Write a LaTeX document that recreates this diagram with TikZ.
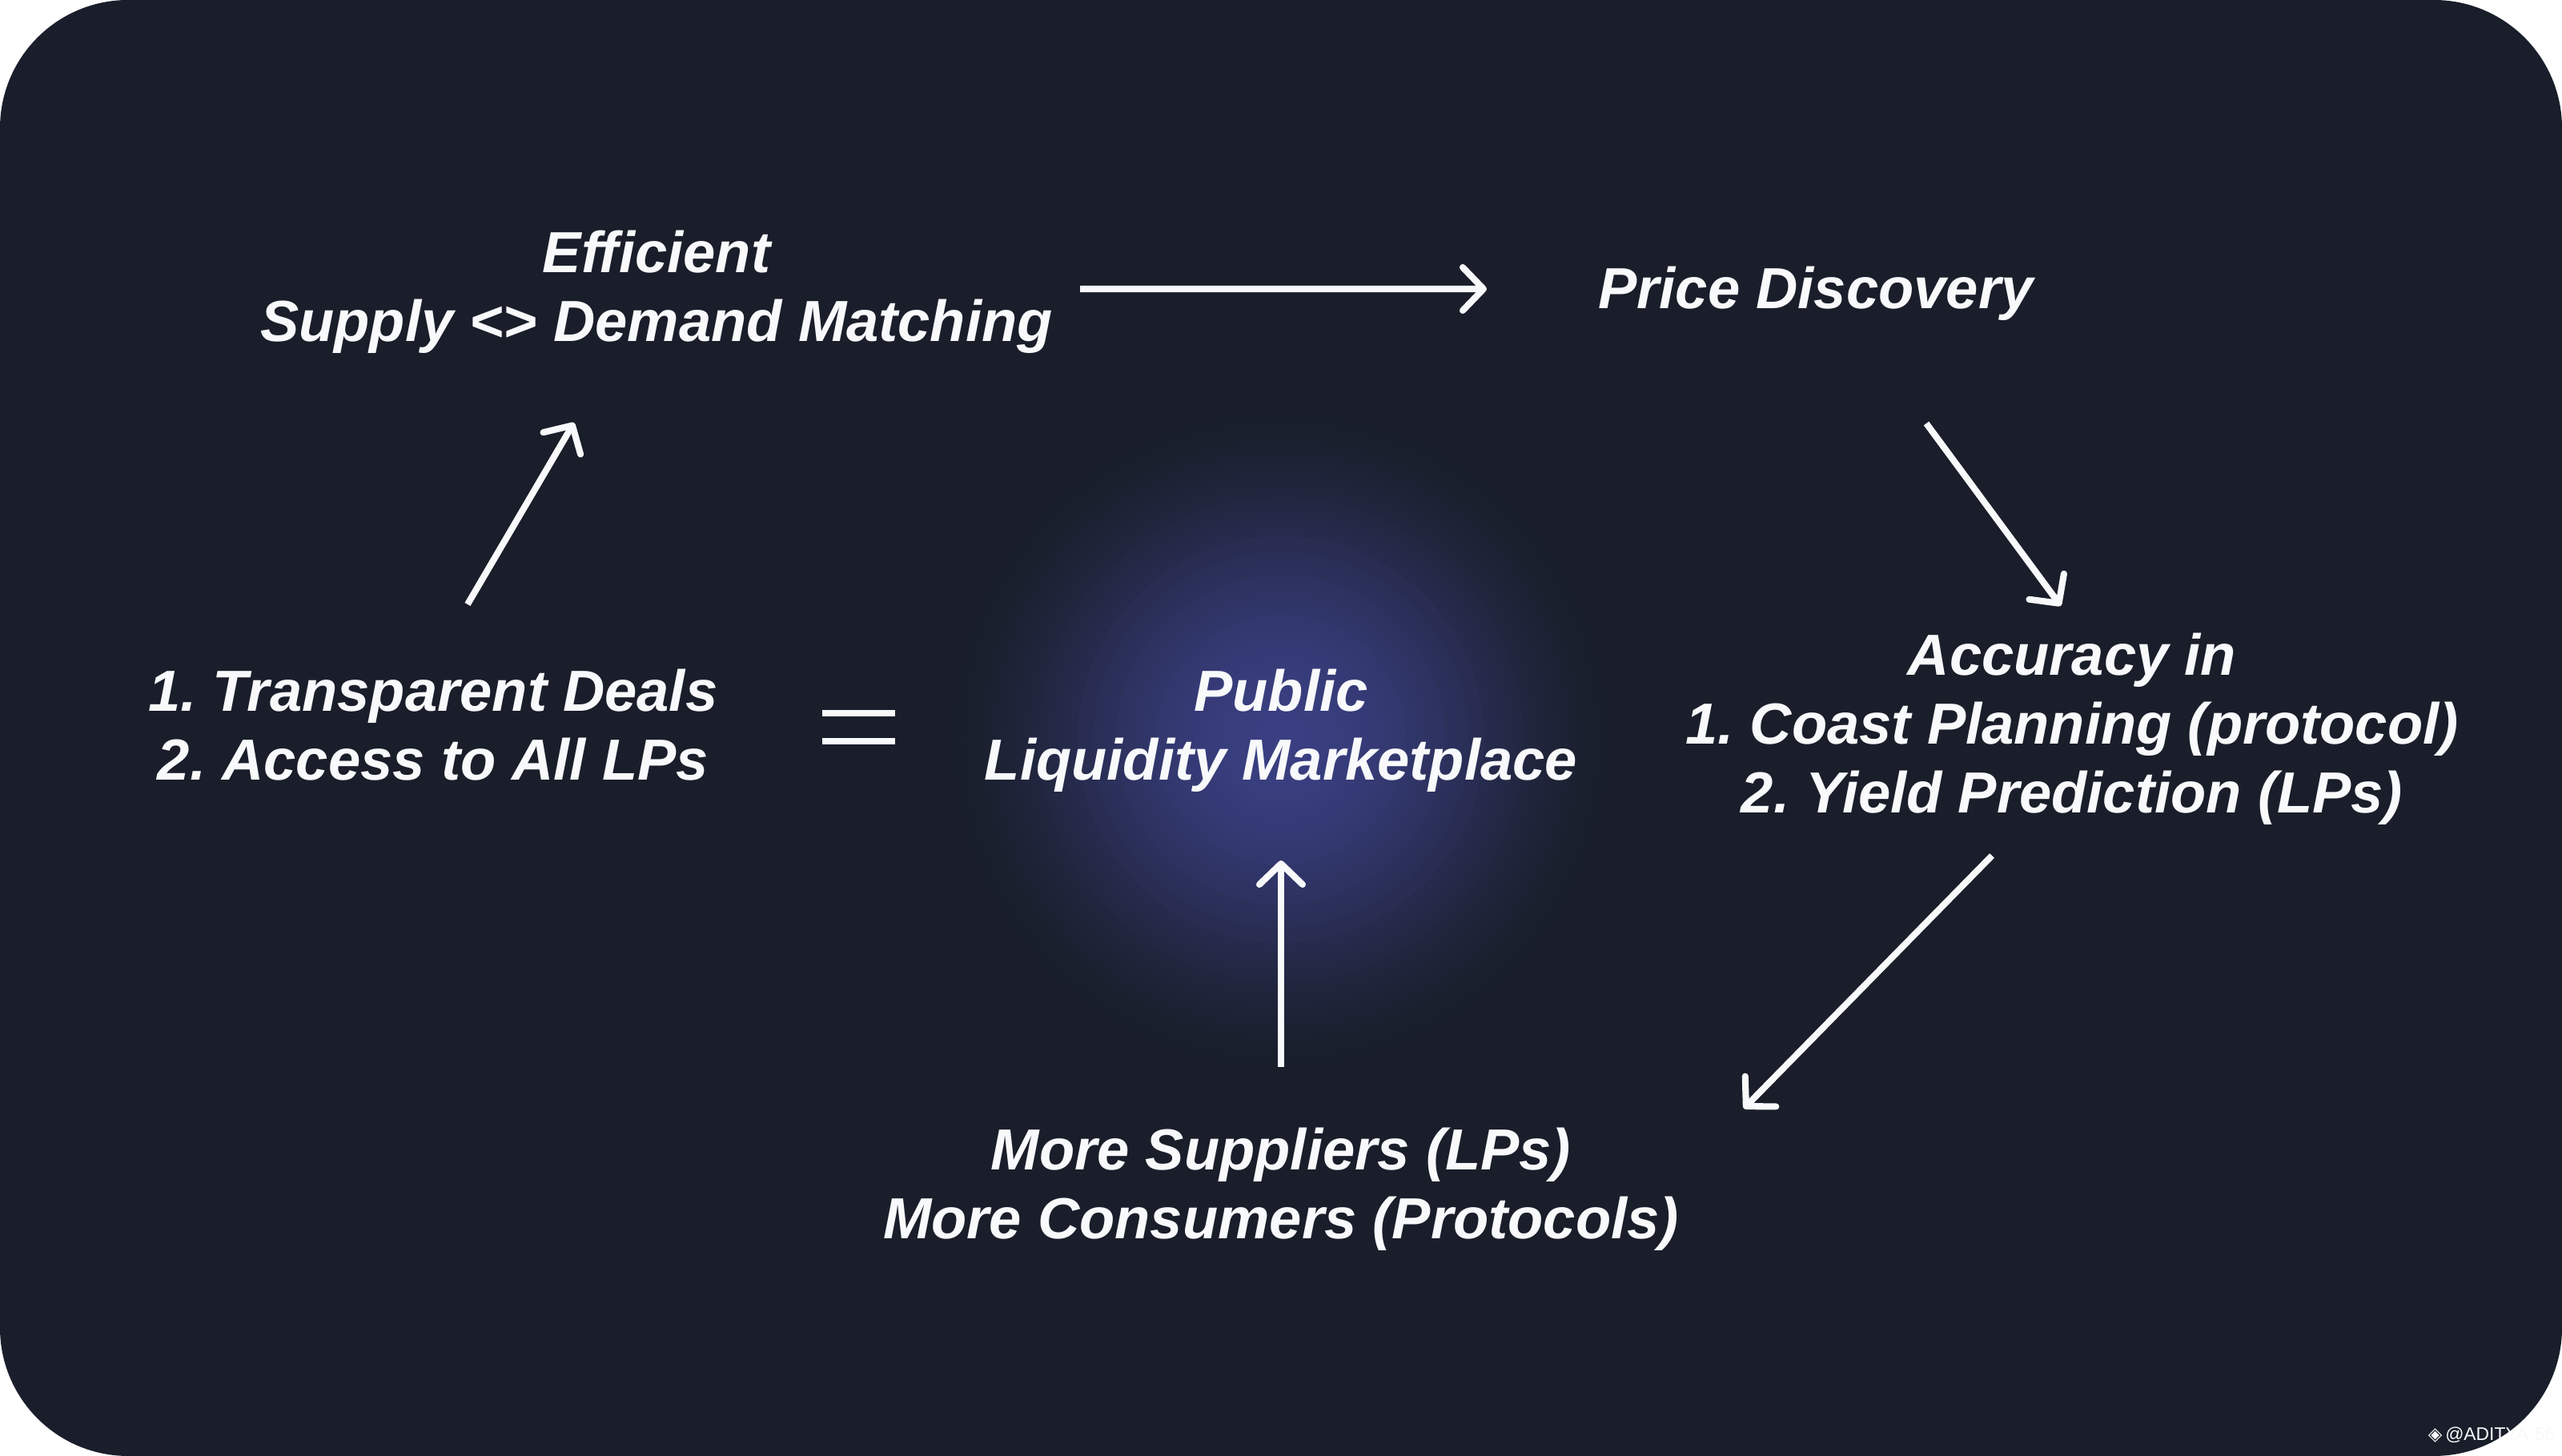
\documentclass[tikz,border=0pt]{standalone}
\usepackage{fontspec}
\setmainfont{Liberation Sans}
\newfontfamily\symfont{DejaVu Sans}
\usepackage{xcolor}
\definecolor{ink}{HTML}{191E2A}
\definecolor{chalk}{HTML}{F8F9FB}
\definecolor{haze}{HTML}{3A3F82}
\usetikzlibrary{arrows.meta,positioning}

\begin{document}
\begin{tikzpicture}[x=1cm, y=1cm,
  lbl/.style={text=chalk, align=center, font=\fontsize{20.6}{24.5}\selectfont\bfseries\itshape},
  arr/.style={-{Straight Barb[length=2.6mm, width=5.4mm, round]}, line width=2.3pt, color=chalk}]
\fill[ink, rounded corners=1.6cm] (0,0) rectangle (32,18.19);
% glow behind the marketplace
\foreach \i in {1,...,45} {
  \pgfmathsetmacro\rr{4.4*(46-\i)/45}
  \pgfmathtruncatemacro\pp{100*(1-((46-\i)/45)^2)^2}
  \fill[haze!\pp!ink] (16,8.95) circle (\rr);
}
% labels
\node[lbl] (eff) at (8.20,14.54) {Efficient\\Supply <> Demand Matching};
\node[lbl] (price) at (22.68,14.52) {Price Discovery};
\node[lbl] (acc) at (25.88,9.08) {Accuracy in\\1.\ Coast Planning (protocol)\\2.\ Yield Prediction (LPs)};
\node[lbl] (deals) at (5.41,9.13) {1.\ Transparent Deals\\2.\ Access to All LPs};
\node[lbl] (pub) at (16.00,9.06) {Public\\Liquidity Marketplace};
\node[lbl] (more) at (16.00,3.33) {More Suppliers (LPs)\\More Consumers (Protocols)};
\coordinate (eq) at (10.72,9.105);
\draw[chalk, line width=2.3pt] ([shift={(-0.455,0.175)}]eq) -- ++(0.91,0)
  ([shift={(-0.455,-0.175)}]eq) -- ++(0.91,0);
% the loop
\draw[arr] ([shift={(5.29,0.04)}]eff.center) -- ([shift={(-4.11,0.06)}]price.center);
\draw[arr] ([shift={(1.38,-1.62)}]price.center) -- ([shift={(-0.14,1.54)}]acc.center);
\draw[arr] ([shift={(-1.00,-1.58)}]acc.center) -- ([shift={(5.78,1.01)}]more.center);
\draw[arr] ([shift={(0,1.53)}]more.center) -- ([shift={(0,-1.62)}]pub.center);
\draw[arr] ([shift={(0.43,1.51)}]deals.center) -- ([shift={(-1.03,-1.63)}]eff.center);
\node[text=chalk, font=\fontsize{6.5}{7}\selectfont, anchor=east, inner sep=0pt] (wm) at (31.92,0.26) {{\symfont ◈}\,@ADITYA-56};
\end{tikzpicture}
\end{document}
